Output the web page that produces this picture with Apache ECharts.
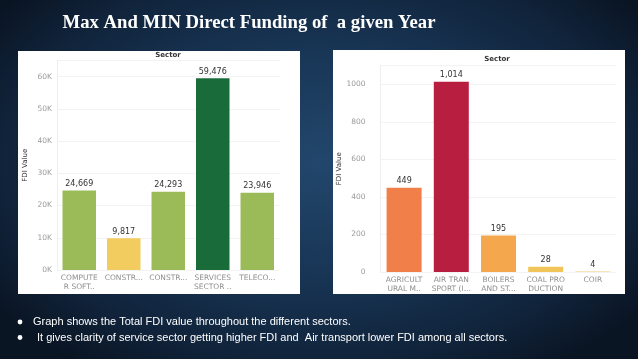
<!DOCTYPE html>
<html>
<head>
<meta charset="utf-8">
<script src="https://cdn.jsdelivr.net/npm/echarts@6/dist/echarts.min.js"></script>
<style>
html,body{margin:0;padding:0;width:638px;height:359px;overflow:hidden;
background: radial-gradient(ellipse 62% 70% at 50% 45%, #22476c 0%, #183555 45%, #10233a 80%, #0a1524 100%);}
#c{width:638px;height:359px;}
</style>
</head>
<body>
<div id="c"></div>
<script>
// ---- data ----
const titleText = "Max And MIN Direct Funding of  a given Year";
const maxCategories = ["COMPUTE\nR SOFT..", "CONSTR...", "CONSTR...", "SERVICES\nSECTOR ..", "TELECO..."];
const maxValues = [24669, 9817, 24293, 59476, 23946];
const maxColors = ["#9bbb59", "#f2cc5e", "#9bbb59", "#1a6b3a", "#9bbb59"];
const minCategories = ["AGRICULT\nURAL M..", "AIR TRAN\nSPORT (I...", "BOILERS\nAND ST...", "COAL PRO\nDUCTION", "COIR"];
const minValues = [449, 1014, 195, 28, 4];
const minColors = ["#f07f4a", "#b71e3f", "#f5a74d", "#f1c55a", "#f6dc9e"];
const bullets = [
  "Graph shows the Total FDI value throughout the different sectors.",
  " It gives clarity of service sector getting higher FDI and  Air transport lower FDI among all sectors."
];

const chart = echarts.init(document.getElementById('c'), null, {renderer: 'canvas'});
const axFont = 'DejaVu Sans';
const tickLabel = {color: '#9a9a9a', fontSize: 7.5, fontFamily: axFont};
function xAxis(gi, cats) {
  return {
    type: 'category', gridIndex: gi, data: cats,
    axisLine: {show: false}, axisTick: {show: false},
    axisLabel: {color: '#8f8f8f', fontSize: 7.5, fontFamily: axFont, lineHeight: 9, margin: 4, interval: 0}
  };
}
const option = {
  animation: false,
  backgroundColor: 'transparent',
  grid: [
    {left: 57, top: 60.5, width: 222.5, height: 209.5},
    {left: 380.5, top: 65.5, width: 236, height: 206.5}
  ],
  xAxis: [xAxis(0, maxCategories), xAxis(1, minCategories)],
  yAxis: [
    {type: 'value', gridIndex: 0, min: 0, max: 65000, interval: 10000,
     name: 'FDI Value', nameLocation: 'middle', nameGap: 28,
     nameTextStyle: {color: '#333', fontSize: 7, fontFamily: axFont},
     axisLine: {show: true, lineStyle: {color: '#eeeeee'}}, axisTick: {show: false},
     axisLabel: Object.assign({}, tickLabel, {showMaxLabel: false, margin: 5,
       formatter: v => (v / 1000) + 'K'}),
     splitLine: {lineStyle: {color: '#f3f3f3'}}},
    {type: 'value', gridIndex: 1, min: 0, max: 1100, interval: 200,
     name: 'FDI Value', nameLocation: 'middle', nameGap: 32,
     nameTextStyle: {color: '#333', fontSize: 7, fontFamily: axFont},
     axisLine: {show: true, lineStyle: {color: '#eeeeee'}}, axisTick: {show: false},
     axisLabel: Object.assign({}, tickLabel, {showMaxLabel: false, margin: 15,
       formatter: v => String(v)}),
     splitLine: {lineStyle: {color: '#f3f3f3'}}}
  ],
  series: [
    {type: 'bar', xAxisIndex: 0, yAxisIndex: 0, barWidth: 33.5,
     data: maxValues.map((v, i) => ({value: v, itemStyle: {color: maxColors[i]}})),
     label: {show: true, position: 'top', distance: 2.5, color: '#333', fontSize: 8, fontFamily: axFont,
       formatter: p => p.value.toLocaleString('en-US')}},
    {type: 'bar', xAxisIndex: 1, yAxisIndex: 1, barWidth: 35,
     data: minValues.map((v, i) => ({value: v, itemStyle: {color: minColors[i]}})),
     label: {show: true, position: 'top', distance: 2.5, color: '#333', fontSize: 8, fontFamily: axFont,
       formatter: p => p.value.toLocaleString('en-US')}}
  ],
  graphic: [
    {type: 'rect', z: -10, shape: {x: 18, y: 51, width: 282, height: 243}, style: {fill: '#ffffff'}},
    {type: 'rect', z: -10, shape: {x: 333, y: 50, width: 292, height: 244}, style: {fill: '#ffffff'}},
    {type: 'text', x: 168, y: 55, style: {text: 'Sector', fill: '#333', font: '600 7px "DejaVu Sans"', align: 'center', verticalAlign: 'middle'}},
    {type: 'text', x: 497, y: 59, style: {text: 'Sector', fill: '#333', font: '600 7px "DejaVu Sans"', align: 'center', verticalAlign: 'middle'}},
    {type: 'text', x: 249, y: 23, style: {text: titleText, fill: '#ffffff', font: 'bold 18.7px "Liberation Serif"', align: 'center', verticalAlign: 'middle'}},
    {type: 'circle', shape: {cx: 20, cy: 322, r: 2.4}, style: {fill: '#ffffff'}},
    {type: 'circle', shape: {cx: 20, cy: 337.5, r: 2.4}, style: {fill: '#ffffff'}},
    {type: 'text', x: 33, y: 322, style: {text: bullets[0], fill: '#ffffff', font: '11px "Liberation Sans"', align: 'left', verticalAlign: 'middle'}},
    {type: 'text', x: 34, y: 337.5, style: {text: bullets[1], fill: '#ffffff', font: '11px "Liberation Sans"', align: 'left', verticalAlign: 'middle'}}
  ]
};
chart.setOption(option);
</script>
</body>
</html>
